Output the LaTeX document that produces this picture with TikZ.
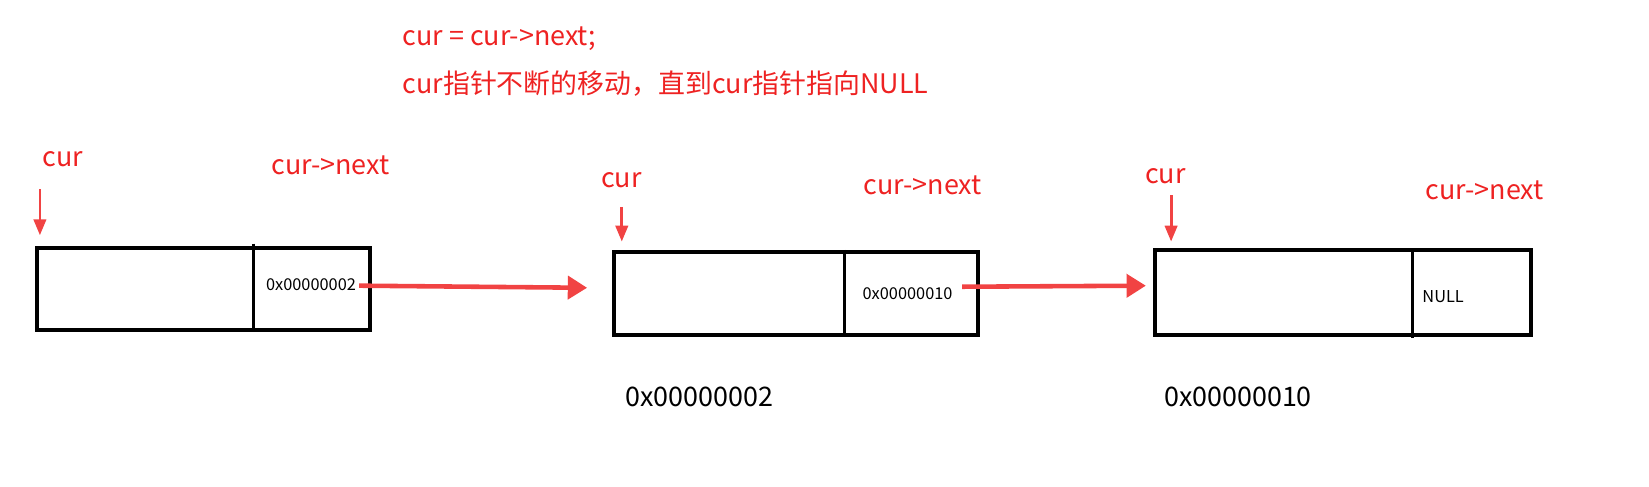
\documentclass[tikz,border=0pt]{standalone}
\usepackage{fontspec}
\setmainfont{Noto Sans CJK SC}
\usetikzlibrary{arrows.meta}
\definecolor{lred}{RGB}{238,34,34}
\tikzset{
  lbl/.style={text=lred,font=\fontsize{15.3}{17}\selectfont,anchor=west,inner sep=0pt},
  small/.style={font=\fontsize{9.3}{11}\selectfont,anchor=west,inner sep=0pt},
  addr/.style={font=\fontsize{15.3}{17}\selectfont,anchor=west,inner sep=0pt},
  boxl/.style={draw,line width=2.3pt},
  link/.style={draw=lred!85,line width=2.6pt,-{Triangle[length=11pt,width=13pt]}},
  down/.style={draw=lred!85,line width=1.6pt,-{Triangle[length=9pt,width=7pt]}}
}
\begin{document}
\begin{tikzpicture}[x=0.021cm,y=-0.021cm]
\useasboundingbox (0,0) rectangle (1570,463);
\node[lbl] (t1) at (383,37) {cur = cur->next;};
\node[lbl] (t2) at (383,80) {cur指针不断的移动，直到cur指针指向NULL};
% boxes
\draw[boxl] (35,236) rectangle (352,314);
\draw[line width=1.6pt] (241,232) -- (241,314);
\draw[boxl] (585,240) rectangle (931,319);
\draw[line width=1.6pt] (804,238) -- (804,321);
\draw[boxl] (1100,238) rectangle (1458,319);
\draw[line width=1.6pt] (1345,238) -- (1345,322);
% labels
\node[lbl] (c1) at (40,152) {cur};
\node[lbl] (n1) at (258,157) {cur->next};
\node[lbl] (c2) at (572,172) {cur};
\node[lbl] (n2) at (822,176) {cur->next};
\node[lbl] (c3) at (1090,168) {cur};
\node[lbl] (n3) at (1357,181) {cur->next};
\coordinate (d1a) at (38,180); \coordinate (d1b) at (38,224);
\coordinate (d2a) at (592,197); \coordinate (d2b) at (592,230);
\coordinate (d3a) at (1115,186); \coordinate (d3b) at (1115,230);
\draw[down] (d1a) -- (d1b);
\draw[down] (d2a) -- (d2b);
\draw[down] (d3a) -- (d3b);
\node[small] (v1) at (253,271) {0x00000002};
\node[small] (v2) at (821,280) {0x00000010};
\node[small] (v3) at (1354,282) {NULL};
\coordinate (a1) at (342,272); \coordinate (b1) at (559,274);
\coordinate (a2) at (916,273); \coordinate (b2) at (1091,272);
\draw[link] (a1) -- (b1);
\draw[link] (a2) -- (b2);
\node[addr] (ad1) at (595,378) {0x00000002};
\node[addr] (ad2) at (1108,378) {0x00000010};
\end{tikzpicture}
\end{document}
